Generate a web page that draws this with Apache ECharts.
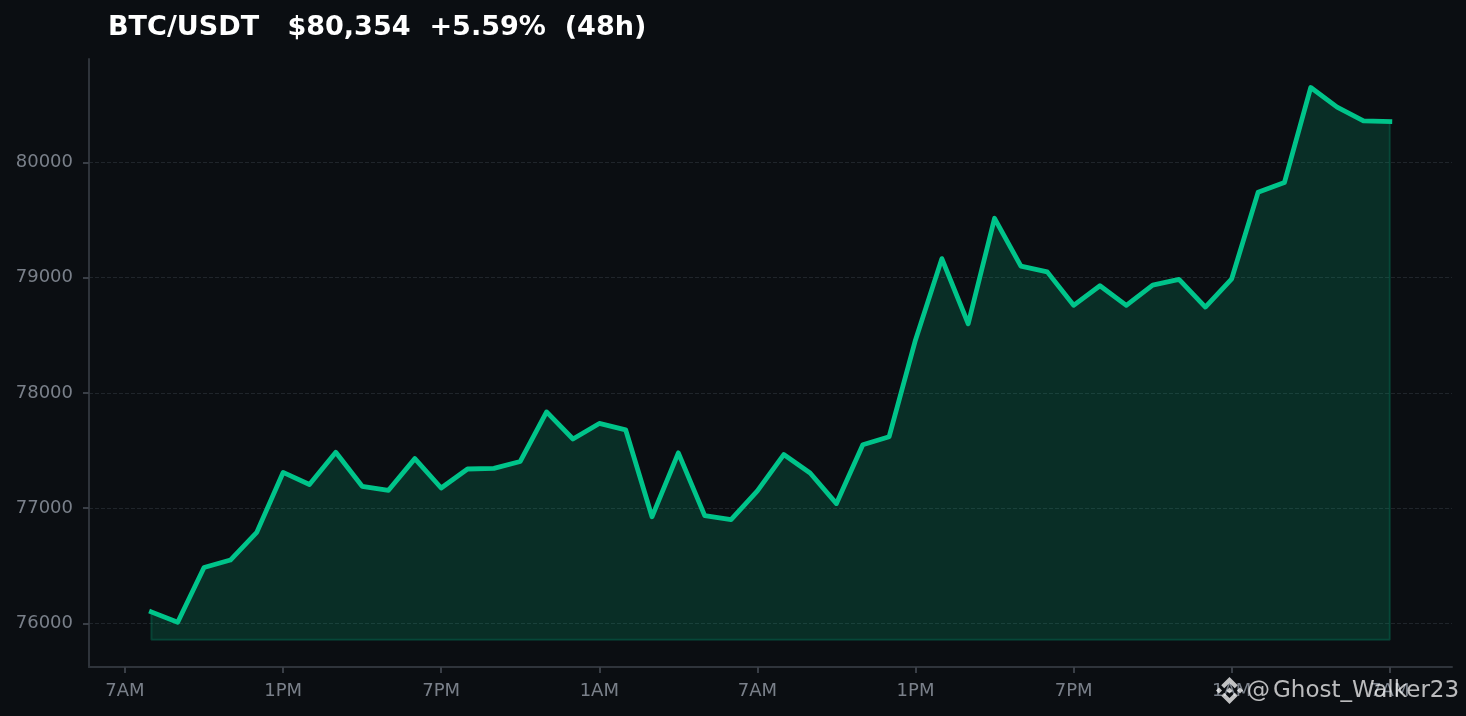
<!DOCTYPE html>
<html><head><meta charset="utf-8">
<style>html,body{margin:0;padding:0;background:#0b0e12}#c{width:1466px;height:716px}</style>
<script src="https://cdn.jsdelivr.net/npm/echarts@6/dist/echarts.min.js"></script>
</head><body><div id="c"></div>
<script>
const titleText = 'BTC/USDT   $80,354  +5.59%  (48h)';
const watermarkAt = '@';
const watermarkName = 'Ghost_Walker23';
const hours = Array.from({length:48},(_, i)=>i+1);
const prices = [76100,76010,76485,76550,76790,77310,77205,77485,77190,77155,77430,77175,77340,77345,77405,77835,77600,77735,77680,76925,77480,76935,76900,77150,77465,77305,77040,77550,77620,78460,79165,78600,79515,79100,79050,78760,78930,78760,78935,78985,78745,78990,79740,79825,80650,80480,80360,80354];
const xTicks = [0,6,12,18,24,30,36,42,48];
const xTickLabels = ['7AM','1PM','7PM','1AM','7AM','1PM','7PM','1AM','7AM'];
const yTicks = [76000,77000,78000,79000,80000];
const baseValue = 75858;
const logoParts = [
  [[38.73,53.2],[63.32,28.62],[87.92,53.22],[102.22,38.91],[63.32,0],[24.43,38.89]],
  [[0,63.31],[14.3,49],[28.61,63.31],[14.3,77.61]],
  [[38.73,73.41],[63.32,98],[87.92,73.4],[102.23,87.69],[63.33,126.6],[24.42,87.72]],
  [[98.28,63.31],[112.58,49],[126.89,63.3],[112.58,77.62]],
  [[63.32,48.78],[77.83,63.3],[63.32,77.78],[48.81,63.28]]
];
const font = '"DejaVu Sans"';
const chart = echarts.init(document.getElementById('c'));
const pts = hours.map((h,i)=>[h,prices[i]]);
const n = hours.length-1;
chart.setOption({
  animation:false,
  backgroundColor:'#0b0e12',
  title:{text:titleText,left:103,top:9,textStyle:{color:'#fff',fontFamily:font,fontWeight:'bold',fontSize:27.05}},
  grid:{left:89,right:14,top:59,bottom:49},
  xAxis:{type:'value',min:-1.366,max:50.36,
    axisLine:{onZero:false,lineStyle:{color:'#2f343b',width:2}},
    axisTick:{customValues:xTicks,length:6,lineStyle:{color:'#3a3f47',width:2}},
    axisLabel:{customValues:xTicks,color:'#7a808a',fontFamily:font,fontSize:18,margin:15,
      formatter:v=>xTickLabels[xTicks.indexOf(v)]},
    splitLine:{show:false}},
  yAxis:{type:'value',min:75622,max:80897,
    axisLine:{show:true,onZero:false,lineStyle:{color:'#2f343b',width:2}},
    axisTick:{show:true,customValues:yTicks,length:6,lineStyle:{color:'#3a3f47',width:2}},
    axisLabel:{customValues:yTicks,color:'#7a808a',fontFamily:font,fontSize:18,margin:16,padding:[4,0,0,0],
      formatter:v=>String(v)},
    splitLine:{show:true,customValues:yTicks,lineStyle:{color:'#20252b',type:'dashed',width:1}}},
  series:[
    {type:'line',data:[[hours[0],prices[0]],[hours[0],baseValue],[hours[n],baseValue],[hours[n],prices[n]]],
      showSymbol:false,silent:true,z:2,lineStyle:{color:'rgba(0,192,135,0.22)',width:2}},
    {type:'line',data:pts,showSymbol:false,z:3,
      lineStyle:{color:'#00c48a',width:4.8,cap:'square',join:'round'},
      areaStyle:{origin:baseValue,color:'rgba(0,192,135,0.18)',opacity:1}}
  ],
  graphic:[
    {type:'group',z:100,x:1216,y:677,scaleX:27/126.6,scaleY:27/126.6,
      children:logoParts.map(p=>({type:'polygon',z:100,shape:{points:p},style:{fill:'rgba(255,255,255,0.75)'}}))},
    {type:'text',z:100,x:1247,y:691.5,style:{text:watermarkAt,fill:'rgba(255,255,255,0.72)',font:'23px '+font,textVerticalAlign:'middle'}},
    {type:'text',z:100,x:1273,y:691.5,style:{text:watermarkName,fill:'rgba(255,255,255,0.72)',font:'23px '+font,textVerticalAlign:'middle'}}
  ]
});
</script></body></html>
